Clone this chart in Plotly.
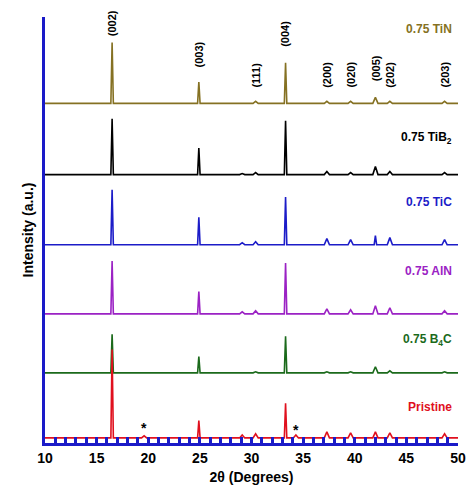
import plotly.graph_objects as go

peaks = [16.5, 19.6, 24.9, 29.1, 30.4, 33.3, 34.3, 37.3, 39.6, 42.0, 43.4, 48.7]
names = ["0.75 TiN", "0.75 TiB<sub>2</sub>", "0.75 TiC", "0.75 AlN", "0.75 B<sub>4</sub>C", "Pristine"]
colors = ["#857123", "#000000", "#1c1cc8", "#9b22c4", "#1b6a1b", "#e0101e"]
baselines = [334, 264, 195, 127, 69, 5]
heights = [
    [60, 0, 21, 0, 2, 40, 0, 2, 2, 6, 2, 2],
    [55, 0, 26, 1, 2, 53, 0, 3, 2, 8, 3, 2],
    [54, 0, 27, 2, 3, 47, 0, 6, 5, 9, 7, 5],
    [52, 0, 22, 2, 3, 50, 0, 5, 4, 8, 6, 3],
    [38, 0, 16, 0, 1, 36, 0, 1, 1, 6, 2, 1],
    [87, 2, 17, 3, 4, 34, 3, 6, 5, 6, 5, 4],
]
label_y = [407, 300, 237, 169, 101, 35]
hkl = ["(002)", "(003)", "(111)", "(004)", "(200)", "(020)", "(005)", "(202)", "(203)"]
hkl_x = [16.5, 24.9, 30.4, 33.3, 37.3, 39.6, 42.0, 43.4, 48.7]
hkl_y = [413, 382, 362, 402, 362, 362, 369, 362, 362]
star_x = [19.6, 34.3]
star_y = [15, 13]

fig = go.Figure()
for n, c, b, h in zip(names, colors, baselines, heights):
    xs, ys = [10, peaks[0] - 0.2], [b, b]
    for i, (p, hh) in enumerate(zip(peaks, h)):
        w = 0.12 if hh > 8 else 0.25
        xs += [p - w, p, p + w]
        ys += [b, b + hh, b]
    xs.append(50); ys.append(b)
    fig.add_trace(go.Scatter(x=xs, y=ys, mode="lines", line=dict(color=c, width=1.6), showlegend=False))
for n, c, yy in zip(names, colors, label_y):
    fig.add_annotation(x=49.6, y=yy, text="<b>%s</b>" % n, showarrow=False, xanchor="right",
                       font=dict(color=c, size=12, family="Arial"))
for t, x, yy in zip(hkl, hkl_x, hkl_y):
    fig.add_annotation(x=x, y=yy, text="<b>%s</b>" % t, showarrow=False, textangle=-90,
                       font=dict(size=11, family="Arial", color="black"))
for x, yy in zip(star_x, star_y):
    fig.add_annotation(x=x, y=yy, text="<b>*</b>", showarrow=False, font=dict(size=14, color="black"))

fig.update_layout(width=474, height=500, margin=dict(l=37, r=24, t=9, b=65),
                  plot_bgcolor="white", paper_bgcolor="white",
                  font=dict(family="Arial", color="black"))
fig.update_xaxes(range=[10, 50], dtick=5, showline=True, linecolor="#1a1ac8", linewidth=3,
                 ticks="inside", ticklen=6, tickwidth=3, tickcolor="#1a1ac8",
                 minor=dict(dtick=1, ticks="inside", ticklen=6, tickwidth=3, tickcolor="#1a1ac8"),
                 showgrid=False, zeroline=False, tickfont=dict(size=14, family="Arial", weight="bold"),
                 title=dict(text="<b>2θ (Degrees)</b>", font=dict(size=14), standoff=8))
fig.update_yaxes(range=[0, 419], showline=True, linecolor="#1a1ac8", linewidth=3,
                 showticklabels=False, ticks="", showgrid=False, zeroline=False,
                 title=dict(text="<b>Intensity (a.u.)</b>", font=dict(size=14), standoff=6))
fig.write_html("out.html")
